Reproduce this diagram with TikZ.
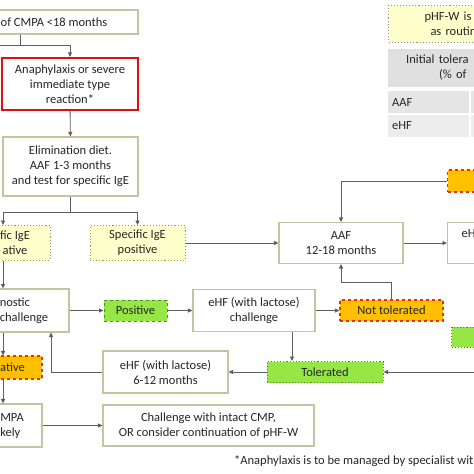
\documentclass[tikz,border=0pt]{standalone}
\usepackage{fontspec}
\setmainfont{Carlito}
\usetikzlibrary{arrows.meta}
\definecolor{boxline}{RGB}{196,196,160}
\definecolor{flowline}{RGB}{95,95,95}
\definecolor{alarmred}{RGB}{224,16,16}
\definecolor{noteyellow}{RGB}{255,255,204}
\definecolor{noteline}{RGB}{150,150,100}
\definecolor{okgreen}{RGB}{150,230,70}
\definecolor{okline}{RGB}{80,140,40}
\definecolor{warnorange}{RGB}{255,192,0}
\definecolor{warnline}{RGB}{224,48,30}
\begin{document}
\begin{tikzpicture}[x=1pt,y=-1pt,>={Triangle[length=4.5pt,width=4pt]},
    every node/.style={font=\fontsize{12.5}{15}\selectfont,text=black!85}]
        \tikzstyle{plainbox}=[rectangle,draw=boxline,line width=1.1pt,fill=white,align=center,inner sep=2pt]
        \tikzstyle{alarmbox}=[plainbox,draw=alarmred,line width=2.2pt]
        \tikzstyle{notebox}=[plainbox,draw=noteline,fill=noteyellow,dotted,line width=1pt]
        \tikzstyle{okbox}=[plainbox,draw=okline,fill=okgreen,dashed,line width=1pt]
        \tikzstyle{okdot}=[plainbox,draw=okline,fill=okgreen,dotted,line width=1pt]
        \tikzstyle{warnbox}=[plainbox,draw=warnline,fill=warnorange,dashed,line width=1.1pt]
        \tikzstyle{cell}=[rectangle,inner sep=2pt]
        \tikzstyle{flow}=[draw=flowline,line width=0.9pt]
        \useasboundingbox (0,0) rectangle (474,474);
        \clip (0,0) rectangle (474,474);
        \fill[white] (0,0) rectangle (474,474);

        % left column
        \node [plainbox,minimum width=168,minimum height=24] (suspect) at (54,22) {of CMPA <18 months};
        \node [alarmbox,minimum width=136,minimum height=52] (anaph) at (70,84) {Anaphylaxis or severe\\immediate type\\reaction*};
        \node [plainbox,minimum width=135,minimum height=59] (elim) at (70.5,166.5) {Elimination diet.\\AAF 1-3 months\\and test for specific IgE};
        \node [notebox,minimum width=70,minimum height=35] (igeneg) at (15,243) {fic IgE\\ative};
        \node [notebox,minimum width=95,minimum height=35] (igepos) at (137.5,243) {Specific IgE\\positive};
        \node [plainbox,minimum width=90,minimum height=43,align=left] (diag) at (24,310.5) {nostic\\challenge};
        \node [warnbox,minimum width=59,minimum height=23] (negchal) at (12.5,367.5) {ative};
        \node [plainbox,minimum width=60,minimum height=43,align=left] (cmpa) at (12,425.5) {MPA\\kely};

        % middle
        \node [okbox,minimum width=63,minimum height=21] (positive) at (135.5,310.5) {Positive};
        \node [plainbox,minimum width=122,minimum height=42] (ehfchal) at (254,310.5) {eHF (with lactose)\\challenge};
        \node [plainbox,minimum width=125,minimum height=42] (ehfdiet) at (165.5,372) {eHF (with lactose)\\6-12 months};
        \node [okdot,minimum width=116,minimum height=21] (tol) at (325,372) {Tolerated};
        \node [plainbox,minimum width=211,minimum height=41] (intact) at (208.5,425.5) {Challenge with intact CMP,\\OR consider continuation of pHF-W};
        \node [anchor=west,inner sep=0] (foot) at (234,461) {*Anaphylaxis is to be managed by specialist with};

        % right side
        \node [plainbox,minimum width=124,minimum height=41] (aaf) at (341,243) {AAF\\12-18 months};
        \node [plainbox,anchor=west,minimum height=41,text width=60,inner xsep=14,align=left] (ehfl) at (447,243) {eH\\\strut};
        \node [warnbox,anchor=west,minimum width=60,minimum height=22] (ntlate) at (447,181) {};
        \node [warnbox,minimum width=103,minimum height=21] (nottol) at (391.5,310.5) {Not tolerated};
        \node [okdot,anchor=west,minimum width=60,minimum height=20] (okright) at (451,337) {};

        % note and table
        \node [notebox,anchor=west,minimum height=37,text width=80,inner xsep=36,align=left] (pnote) at (388,23.5) {pHF-W is\\\hspace*{6pt}as routin};
        \node [cell,fill=black!12,anchor=west,minimum height=38,text width=100,inner xsep=18,align=left] (thead) at (388,68) {Initial tolera\\\hspace*{33pt}(\% of};
        \node [cell,fill=black!10,anchor=west,minimum height=22,text width=73,inner xsep=4,align=left] (taaf) at (388,102) {AAF};
        \node [cell,fill=black!10,anchor=west,minimum width=20,minimum height=22] (taafv) at (471,102) {};
        \node [cell,fill=black!7,anchor=west,minimum height=22,text width=73,inner xsep=4,align=left] (tehf) at (388,126) {eHF};
        \node [cell,fill=black!7,anchor=west,minimum width=20,minimum height=22] (tehfv) at (471,126) {};

        % connectors
        \coordinate (fork1) at (20,45);
        \coordinate (fork1l) at (-10,45);
        \coordinate (fork1r) at (70,45);
        \coordinate (fork2) at (70.5,212);
        \coordinate (fork2l) at (3,212);
        \coordinate (back1) at (341,282);
        \coordinate (drop) at (292,345);
        \coordinate (offright) at (490,372);
        \coordinate (back2) at (51,372);

        \path[flow] (suspect.south -| fork1) -- (fork1);
        \path[flow] (fork1l) -- (fork1r);
        \path[flow,->] (fork1r) -- (anaph.north);
        \path[flow,->] (anaph) -- (elim);
        \path[flow] (elim.south) -- (fork2);
        \path[flow] (fork2l) -- (fork2 -| igepos.north);
        \path[flow,->] (fork2l) -- (fork2l |- igeneg.north);
        \path[flow,->] (fork2 -| igepos.north) -- (igepos.north);
        \path[flow,->] (fork2l |- igeneg.south) -- (fork2l |- diag.north);
        \path[flow,->] (igepos) -- (aaf);
        \path[flow,->] (aaf) -- (ehfl);
        \path[flow,->] (ntlate.west) -| (aaf.north);
        \path[flow,->] (nottol.north) |- (back1) -- (aaf.south);
        \path[flow,->] (diag) -- (positive);
        \path[flow,->] (positive) -- (ehfchal);
        \path[flow,->] (ehfchal) -- (nottol);
        \path[flow,->] (ehfchal.south -| drop) -- (tol.north -| drop);
        \path[flow,->] (offright) -- (tol.east);
        \path[flow,->] (tol) -- (ehfdiet);
        \path[flow,->] (ehfdiet.west) -- (back2) -- (back2 |- diag.south);
        \path[flow,->] (fork2l |- diag.south) -- (fork2l |- negchal.north);
        \path[flow,->] (fork2l |- negchal.south) -- (fork2l |- cmpa.north);
        \path[flow,->] (cmpa) -- (intact);
\end{tikzpicture}
\end{document}
